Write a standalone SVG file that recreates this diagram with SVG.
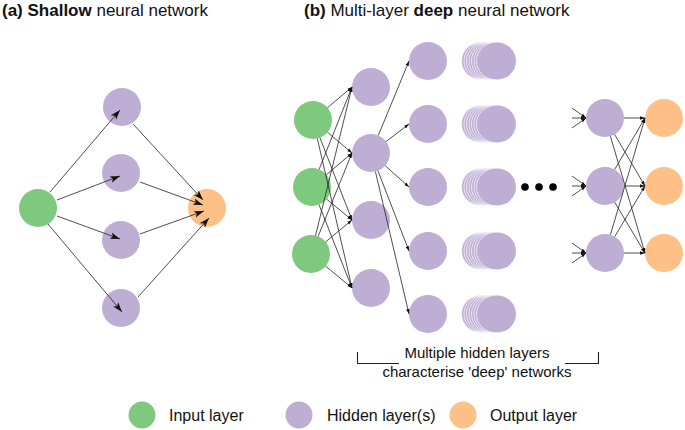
<svg xmlns="http://www.w3.org/2000/svg" xmlns:xlink="http://www.w3.org/1999/xlink" width="685" height="430" viewBox="0 0 685 430">
<style>
.in{fill:#7fc97f}
.hid{fill:#beaed4}
.out{fill:#fdc086}
.stk{fill:#beaed4;stroke:#ffffff;stroke-width:0.7}
.ln{stroke:#222;stroke-width:0.8;fill:none}
.br{stroke:#222;stroke-width:1.1;fill:none}
.la{marker-end:url(#ah)}
.lb{marker-end:url(#bh)}
.t{font-family:"Liberation Sans",Arial,sans-serif;fill:#111}
.title{font-size:17px}
.b{font-weight:bold}
.leg{font-size:16px}
.note{font-size:15px;text-anchor:middle}
.dot{fill:#000}
</style>
<defs>
<marker id="ah" markerUnits="userSpaceOnUse" markerWidth="10" markerHeight="8" viewBox="0 0 10 8" refX="10" refY="4" orient="auto">
<path d="M0,0.6 L10,4 L0,7.4 L2.5,4 Z" fill="#111"/>
</marker>
<marker id="bh" markerUnits="userSpaceOnUse" markerWidth="5" markerHeight="4" viewBox="0 0 5 4" refX="5" refY="2" orient="auto">
<path d="M0,0.3 L5,2 L0,3.7 Z" fill="#111"/>
</marker>
<g id="stack">
<circle class="stk" cx="480" cy="0" r="18.5"/>
<circle class="stk" cx="482.5" cy="0" r="18.5"/>
<circle class="stk" cx="485" cy="0" r="18.5"/>
<circle class="stk" cx="487.5" cy="0" r="18.5"/>
<circle class="stk" cx="490" cy="0" r="18.5"/>
<circle class="stk" cx="492.5" cy="0" r="18.5"/>
<circle class="stk" cx="495" cy="0" r="18.5"/>
<circle class="hid" cx="497.5" cy="0" r="18.5"/>
</g>
</defs>
<rect width="685" height="430" fill="#ffffff"/>

<text class="t title" x="2" y="16"><tspan class="b">(a) Shallow</tspan> neural network</text>
<text class="t title" x="304" y="16"><tspan class="b">(b)</tspan> Multi-layer <tspan class="b">deep</tspan> neural network</text>

<!-- Panel (a) nodes -->
<g id="a-input"><circle class="in" cx="38" cy="208" r="19"/></g>
<g id="a-hidden1"><circle class="hid" cx="122" cy="107" r="19"/></g>
<g id="a-hidden2"><circle class="hid" cx="121" cy="173" r="19"/></g>
<g id="a-hidden3"><circle class="hid" cx="121" cy="240" r="19"/></g>
<g id="a-hidden4"><circle class="hid" cx="121" cy="308" r="19"/></g>
<g id="a-output"><circle class="out" cx="207" cy="208" r="19"/></g>

<!-- Panel (b) nodes -->
<g id="b-input1"><circle class="in" cx="313" cy="120" r="19"/></g>
<g id="b-input2"><circle class="in" cx="312" cy="187" r="19"/></g>
<g id="b-input3"><circle class="in" cx="311" cy="254" r="19"/></g>
<g id="b-l1n1"><circle class="hid" cx="371" cy="87" r="19"/></g>
<g id="b-l1n2"><circle class="hid" cx="371" cy="153" r="19"/></g>
<g id="b-l1n3"><circle class="hid" cx="371" cy="220" r="19"/></g>
<g id="b-l1n4"><circle class="hid" cx="371" cy="288" r="19"/></g>
<g id="b-l2n1"><circle class="hid" cx="428" cy="61" r="19"/></g>
<g id="b-l2n2"><circle class="hid" cx="428" cy="124" r="19"/></g>
<g id="b-l2n3"><circle class="hid" cx="428" cy="187" r="19"/></g>
<g id="b-l2n4"><circle class="hid" cx="428" cy="251" r="19"/></g>
<g id="b-l2n5"><circle class="hid" cx="428" cy="314" r="19"/></g>
<g id="b-stack1"><use xlink:href="#stack" href="#stack" y="61"/></g>
<g id="b-stack2"><use xlink:href="#stack" href="#stack" y="124"/></g>
<g id="b-stack3"><use xlink:href="#stack" href="#stack" y="187"/></g>
<g id="b-stack4"><use xlink:href="#stack" href="#stack" y="251"/></g>
<g id="b-stack5"><use xlink:href="#stack" href="#stack" y="314"/></g>
<g id="b-ellipsis">
<circle class="dot" cx="525" cy="187" r="3.8"/>
<circle class="dot" cx="539" cy="187" r="3.8"/>
<circle class="dot" cx="553" cy="187" r="3.8"/>
</g>
<g id="b-ln1"><circle class="hid" cx="605" cy="118" r="19"/></g>
<g id="b-ln2"><circle class="hid" cx="605" cy="186" r="19"/></g>
<g id="b-ln3"><circle class="hid" cx="605" cy="253" r="19"/></g>
<g id="b-out1"><circle class="out" cx="664" cy="118" r="19"/></g>
<g id="b-out2"><circle class="out" cx="664" cy="186" r="19"/></g>
<g id="b-out3"><circle class="out" cx="664" cy="253" r="19"/></g>

<!-- Connectors -->
<g id="connectors" class="ln">
<line class="la" x1="50" y1="192" x2="120" y2="110"/>
<line class="la" x1="57" y1="200" x2="120" y2="176"/>
<line class="la" x1="57" y1="216" x2="120" y2="239"/>
<line class="la" x1="48" y1="224" x2="122" y2="312"/>
<line class="la" x1="133" y1="124" x2="203" y2="200"/>
<line class="la" x1="140" y1="182" x2="203" y2="205"/>
<line class="la" x1="140" y1="234" x2="204" y2="211"/>
<line class="la" x1="138" y1="297" x2="209" y2="218"/>

<line class="lb" x1="327.5" y1="107.7" x2="352" y2="87"/>
<line class="lb" x1="327.5" y1="132.3" x2="352" y2="153"/>
<line class="lb" x1="319.9" y1="137.7" x2="352" y2="220"/>
<line class="lb" x1="317.3" y1="138.5" x2="352" y2="288"/>
<line class="lb" x1="319.1" y1="169.4" x2="352" y2="87"/>
<line class="lb" x1="326.5" y1="174.7" x2="352" y2="153"/>
<line class="lb" x1="326.6" y1="199.1" x2="352" y2="220"/>
<line class="lb" x1="319" y1="204.7" x2="352" y2="288"/>
<line class="lb" x1="315.5" y1="235.6" x2="352" y2="87"/>
<line class="lb" x1="318.1" y1="236.4" x2="352" y2="153"/>
<line class="lb" x1="325.6" y1="241.9" x2="352" y2="220"/>
<line class="lb" x1="325.6" y1="266.1" x2="352" y2="288"/>

<line class="lb" x1="378.3" y1="135.4" x2="409" y2="61"/>
<line class="lb" x1="386.1" y1="141.5" x2="409" y2="124"/>
<line class="lb" x1="385.2" y1="165.7" x2="409" y2="187"/>
<line class="lb" x1="377.9" y1="170.7" x2="409" y2="251"/>
<line class="lb" x1="375.4" y1="171.5" x2="409" y2="314"/>

<line class="lb" x1="572" y1="108" x2="586" y2="118"/>
<line class="lb" x1="572" y1="118" x2="586" y2="118"/>
<line class="lb" x1="572" y1="128" x2="586" y2="118"/>
<line class="lb" x1="572" y1="176" x2="586" y2="186"/>
<line class="lb" x1="572" y1="186" x2="586" y2="186"/>
<line class="lb" x1="572" y1="196" x2="586" y2="186"/>
<line class="lb" x1="572" y1="243" x2="586" y2="253"/>
<line class="lb" x1="572" y1="253" x2="586" y2="253"/>
<line class="lb" x1="572" y1="263" x2="586" y2="253"/>

<line class="lb" x1="624" y1="118" x2="645" y2="118"/>
<line class="lb" x1="614.6" y1="134.4" x2="645" y2="186"/>
<line class="lb" x1="610.4" y1="136.2" x2="645" y2="253"/>
<line class="lb" x1="614.6" y1="169.6" x2="645" y2="118"/>
<line class="lb" x1="624" y1="186" x2="645" y2="186"/>
<line class="lb" x1="614.7" y1="202.3" x2="645" y2="253"/>
<line class="lb" x1="610.4" y1="234.8" x2="645" y2="118"/>
<line class="lb" x1="614.7" y1="236.7" x2="645" y2="186"/>
<line class="lb" x1="624" y1="253" x2="645" y2="253"/>
</g>

<!-- Bracket annotation -->
<g id="bracket">
<polyline class="br" points="357.5,352 357.5,363.5 399,363.5"/>
<polyline class="br" points="565,363.5 598.5,363.5 598.5,352"/>
<text class="t note" x="477" y="358">Multiple hidden layers</text>
<text class="t note" x="477" y="377">characterise 'deep' networks</text>
</g>

<!-- Legend -->
<g id="legend-input"><circle class="in" cx="142" cy="415" r="13.5"/><text class="t leg" x="169" y="421">Input layer</text></g>
<g id="legend-hidden"><circle class="hid" cx="299" cy="415" r="13.5"/><text class="t leg" x="327" y="421">Hidden layer(s)</text></g>
<g id="legend-output"><circle class="out" cx="463" cy="415" r="13.5"/><text class="t leg" x="490" y="421">Output layer</text></g>
</svg>
